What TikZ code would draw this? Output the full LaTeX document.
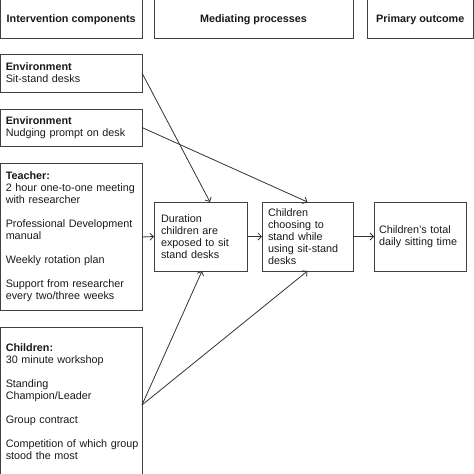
\documentclass[tikz,border=0pt]{standalone}
\usepackage{fontspec}
\setmainfont{Liberation Sans}
\usepackage{tikz}
\usetikzlibrary{arrows.meta}

\begin{document}
\begin{tikzpicture}[x=1pt, y=-1pt,
  every node/.style={draw=black!75, line width=0.8pt, outer sep=0pt, inner ysep=0pt, text=black!90, font=\fontsize{10.8}{12}\selectfont},
  headbox/.style={align=center, font=\fontsize{10.8}{12}\selectfont\bfseries, minimum height=39pt, text height=8.5pt, text depth=0pt},
  leftbox/.style={align=left, text width=131pt, inner xsep=5.25pt},
  midbox/.style={align=left, minimum height=69pt},
  arr/.style={draw=black!80, line width=0.8pt, -{Straight Barb[length=3.5pt,width=7pt]}}]
\useasboundingbox (0,0) rectangle (474,474);

\node[headbox, minimum width=141.5pt] (hleft) at (71.25,18.5) {Intervention components};
\node[headbox, minimum width=199pt] (hmid) at (253.5,18.5) {Mediating processes};
\node[headbox, minimum width=106.5pt] (hright) at (420.25,18.5) {Primary outcome};

\node[leftbox, minimum height=38pt] (env1) at (71.25,73) {\textbf{Environment}\\Sit-stand desks};
\node[leftbox, minimum height=37pt] (env2) at (71.25,127.5) {\textbf{Environment}\\Nudging prompt on desk};
\node[leftbox, minimum height=147pt] (teach) at (71.25,237) {\textbf{Teacher:}\\2 hour one-to-one meeting\\with researcher\\[12pt]Professional Development\\manual\\[12pt]Weekly rotation plan\\[12pt]Support from researcher\\every two/three weeks};
\node[leftbox, minimum height=149pt] (kids) at (71.25,401.5) {\textbf{Children:}\\30 minute workshop\\[12pt]Standing\\Champion/Leader\\[12pt]Group contract\\[12pt]\mbox{Competition of which group}\\stood the most};

\node[midbox, text width=79pt, inner xsep=7pt] (dur) at (200.5,236.5) {Duration\\children are\\exposed to sit\\stand desks};
\node[midbox, text width=79pt, inner xsep=6pt] (choose) at (307.5,236.5) {Children\\choosing to\\stand while\\using sit-stand\\desks};
\node[midbox, text width=82pt, inner xsep=5pt] (outc) at (420,236.5) {Children’s total\\daily sitting time};

\draw[arr] (env1.east) -- ([xshift=9.5pt]dur.north);
\draw[arr] (env2.east) -- (choose.north);
\draw[arr] (teach.east) -- (dur.west);
\draw[arr] ([yshift=-3.5pt]kids.east) -- ([xshift=1.5pt]dur.south);
\draw[arr] ([yshift=-3.5pt]kids.east) -- (choose.south);
\draw[arr] (dur.east) -- (choose.west);
\draw[arr] (choose.east) -- (outc.west);
\end{tikzpicture}
\end{document}
